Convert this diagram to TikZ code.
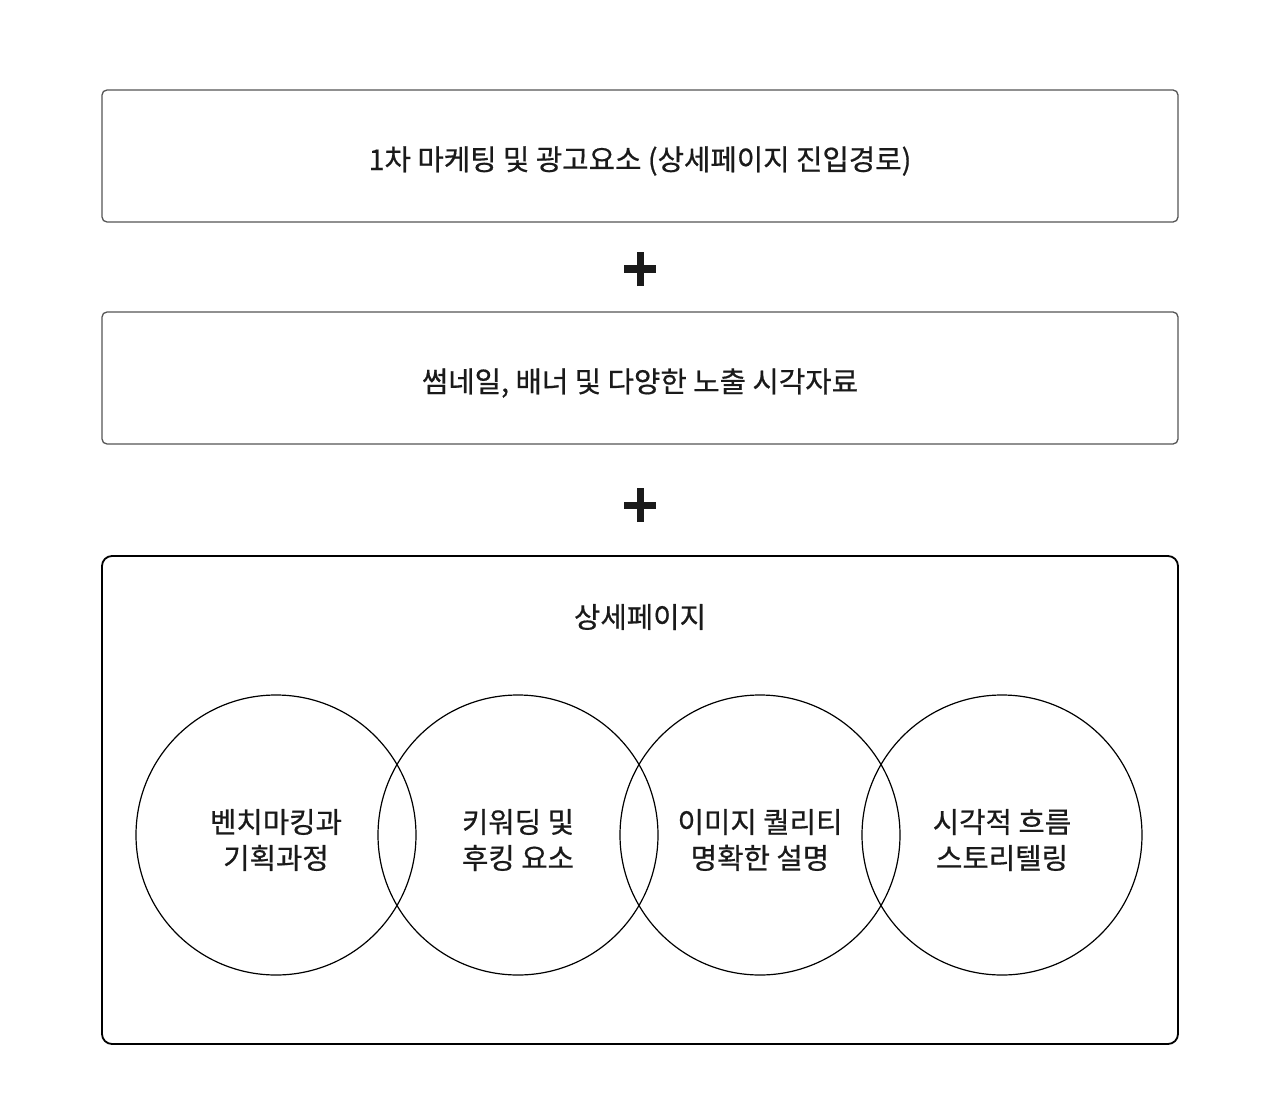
\documentclass[tikz,border=0pt]{standalone}
\usepackage{fontspec}
\newfontfamily\kr[FakeBold=0.6]{Noto Sans CJK KR}
\definecolor{ink}{HTML}{1A1A1A}
\definecolor{boxline}{HTML}{555555}
\begin{document}
\begin{tikzpicture}[x=1pt,y=-1pt,
  lbl/.style={font=\kr\fontsize{28.7}{36}\selectfont, text=ink, align=center, yshift=-5pt},
  topbox/.style={draw=boxline, line width=1.3pt, rounded corners=5pt, minimum width=1076pt, minimum height=132pt, inner sep=0pt},
  bigbox/.style={draw=black, line width=1.8pt, rounded corners=10pt, minimum width=1076pt, minimum height=488pt, inner sep=0pt},
  ring/.style={circle, draw=black, line width=1.2pt, minimum size=280pt, inner sep=0pt},
  plusbar/.style={line width=7pt, draw=ink}
]
\useasboundingbox (0,0) rectangle (1280,1110);
\node[topbox] (b1) at (640,156) {};
\node[lbl] (t1) at (b1.center) {1차 마케팅 및 광고요소 (상세페이지 진입경로)};
\node[topbox] (b2) at (640,378) {};
\node[lbl] (t2) at (b2.center) {썸네일, 배너 및 다양한 노출 시각자료};
\node[bigbox] (b3) at (640,800) {};
\node[lbl] (t3) at (640,612) {상세페이지};
\node[ring] (c1) at (276,835) {};
\node[ring] (c2) at (518,835) {};
\node[ring] (c3) at (760,835) {};
\node[ring] (c4) at (1002,835) {};
\node[lbl] (l1) at (c1.center) {벤치마킹과\\기획과정};
\node[lbl] (l2) at (c2.center) {키워딩 및\\후킹 요소};
\node[lbl] (l3) at (c3.center) {이미지 퀄리티\\명확한 설명};
\node[lbl] (l4) at (c4.center) {시각적 흐름\\스토리텔링};
\coordinate (p1) at (640,269);
\coordinate (p2) at (640,505);
\foreach \p in {p1,p2}{
  \draw[plusbar] ([xshift=-16pt]\p) -- ([xshift=16pt]\p);
  \draw[plusbar] ([yshift=-17pt]\p) -- ([yshift=17pt]\p);
}
\end{tikzpicture}
\end{document}
